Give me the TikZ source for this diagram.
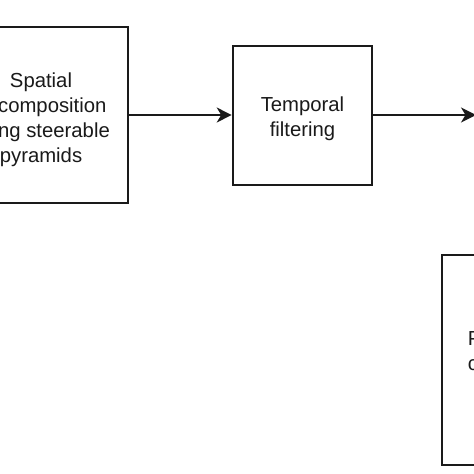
\documentclass[tikz,border=0pt]{standalone}
\usepackage{fontspec}
\setmainfont{Liberation Sans}
\usetikzlibrary{arrows.meta}
\definecolor{ink}{HTML}{1A1A1A}
\tikzset{
  stagebox/.style={draw=ink, line width=2pt, rectangle, inner sep=0pt},
  stagetext/.style={align=center, text=ink, inner sep=0pt, font=\fontsize{20.3}{25}\selectfont},
  flow/.style={draw=ink, line width=1.6pt, -{Stealth[length=15pt,width=15pt,inset=4.5pt]}}
}
\begin{document}
\begin{tikzpicture}[x=1pt,y=-1pt]
\useasboundingbox (0,0) rectangle (474,474);
\clip (0,0) rectangle (474,474);
\fill[white] (0,0) rectangle (474,474);
\node[stagebox, minimum width=173pt, minimum height=175.4pt,
  label={[stagetext, yshift=-4.5pt]center:{Spatial\\decomposition\\using steerable\\pyramids}}] (decomp) at (41,115) {};
\node[stagebox, minimum width=139.6pt, minimum height=139.3pt,
  label={[stagetext, yshift=-3.5pt]center:{Temporal\\filtering}}] (temporal) at (302.5,115.3) {};
\node[stagebox, minimum width=126pt, minimum height=210pt,
  label={[stagetext, yshift=7pt]center:{Pyramid\\collapse}}] (recon) at (505,360) {};
\coordinate (out) at (476,115);
\draw[flow] (decomp.east |- 0,115) -- (temporal.west |- 0,115);
\draw[flow] (temporal.east |- 0,115) -- (out);
\end{tikzpicture}
\end{document}
